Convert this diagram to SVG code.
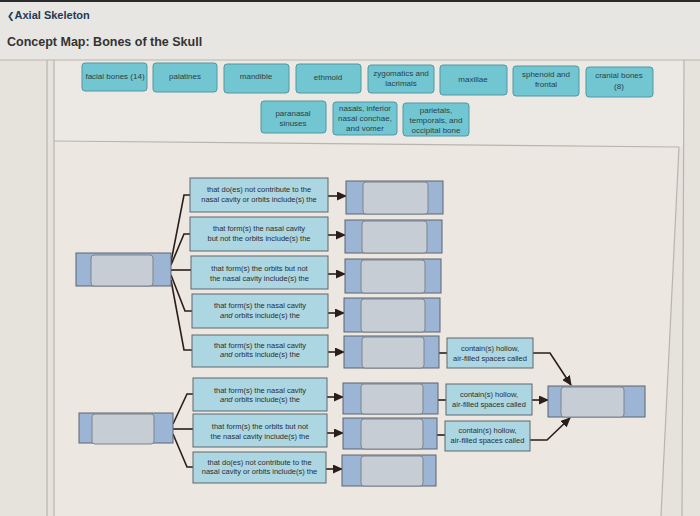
<svg xmlns="http://www.w3.org/2000/svg" width="700" height="516" viewBox="0 0 700 516">
<defs>
<marker id="arr" markerUnits="userSpaceOnUse" markerWidth="10" markerHeight="9" refX="9" refY="4.5" orient="auto">
<path d="M0,0 L10,4.5 L0,9 Z" fill="#2b1e1a"/>
</marker>
<style>
.tile{fill:#72c6d1;stroke:#4f98a3;stroke-width:1}
.tt{font-family:"Liberation Sans",Arial,sans-serif;font-size:8px;fill:#2a3f46;text-anchor:middle}
.box{fill:#acd6e2;stroke:#5e676d;stroke-width:1}
.bt{font-family:"Liberation Sans",Arial,sans-serif;font-size:7.5px;fill:#2a2e32;text-anchor:middle}
.no{fill:#9db5d5;stroke:#5b6470;stroke-width:1}
.ni{fill:#c7cdd4;stroke:#7d848c;stroke-width:1}
.c{stroke:#2b1e1a;stroke-width:1.6;fill:none}
.ca{stroke:#2b1e1a;stroke-width:1.6;fill:none;marker-end:url(#arr)}
.fr{stroke:#b9b4ad;stroke-width:1.2;fill:none}
</style>
</defs>
<rect x="0" y="0" width="700" height="516" fill="#e6e2dc"/>
<rect x="0" y="0" width="700" height="60" fill="#e8e6e3"/>
<rect x="0" y="0" width="700" height="2" fill="#2a2a2a"/>
<polygon points="54,60 684,60 684,147 54,141" fill="#ece9e4"/>
<polygon points="54,141 679,147 661,516 54,516" fill="#ece7e0"/>
<line class="fr" x1="0" y1="60" x2="700" y2="60"/>
<line class="fr" x1="47" y1="60" x2="47" y2="516"/>
<line class="fr" x1="54" y1="60" x2="54" y2="516"/>
<line class="fr" x1="54" y1="141" x2="679" y2="147"/>
<line class="fr" x1="684" y1="60" x2="682" y2="516"/>
<line class="fr" x1="679" y1="147" x2="661" y2="516"/>
<text x="7" y="19" font-family="Liberation Sans,Arial,sans-serif" font-size="11" font-weight="bold" fill="#213a55"><tspan font-family="DejaVu Sans,sans-serif" font-size="9">❮</tspan>Axial Skeleton</text>
<text x="7" y="46" font-family="Liberation Sans,Arial,sans-serif" font-size="12.5" font-weight="bold" fill="#333">Concept Map: Bones of the Skull</text>

<g id="label-tiles">
<g id="tile-facial"><rect class="tile" x="82" y="63" width="65" height="28" rx="3"/><text class="tt" x="115" y="79">facial bones (14)</text></g>
<g id="tile-palatines"><rect class="tile" x="153" y="63" width="64" height="29" rx="3"/><text class="tt" x="185" y="79">palatines</text></g>
<g id="tile-mandible"><rect class="tile" x="224" y="64" width="65" height="29" rx="3"/><text class="tt" x="256" y="79">mandible</text></g>
<g id="tile-ethmoid"><rect class="tile" x="296" y="64" width="65" height="29" rx="3"/><text class="tt" x="328" y="80">ethmoid</text></g>
<g id="tile-zygomatics"><rect class="tile" x="368" y="65" width="66" height="28" rx="3"/><text class="tt" x="401" y="75.5">zygomatics and</text><text class="tt" x="401" y="85.5">lacrimals</text></g>
<g id="tile-maxillae"><rect class="tile" x="440" y="65" width="67" height="30" rx="3"/><text class="tt" x="473" y="82">maxillae</text></g>
<g id="tile-sphenoid"><rect class="tile" x="513" y="66" width="66" height="30" rx="3"/><text class="tt" x="546" y="76.5">sphenoid and</text><text class="tt" x="546" y="87">frontal</text></g>
<g id="tile-cranial"><rect class="tile" x="586" y="67" width="67" height="30" rx="3"/><text class="tt" x="619" y="77.5">cranial bones</text><text class="tt" x="619" y="88.5">(8)</text></g>
<g id="tile-paranasal"><rect class="tile" x="261" y="101" width="65" height="32" rx="3"/><text class="tt" x="293" y="115.5">paranasal</text><text class="tt" x="293" y="125.5">sinuses</text></g>
<g id="tile-nasals"><rect class="tile" x="333" y="102" width="64" height="33" rx="3"/><text class="tt" x="365" y="110.5">nasals, inferior</text><text class="tt" x="365" y="120.5">nasal conchae,</text><text class="tt" x="365" y="131">and vomer</text></g>
<g id="tile-parietals"><rect class="tile" x="403" y="103" width="66" height="33" rx="3"/><text class="tt" x="436" y="112.5">parietals,</text><text class="tt" x="436" y="122.5">temporals, and</text><text class="tt" x="436" y="132.5">occipital bone</text></g>
</g>

<g id="connectors">
<polyline class="c" points="171,262 184,195 190,195"/>
<polyline class="c" points="171,265 184,234 190,234"/>
<polyline class="c" points="171,270 191,270"/>
<polyline class="c" points="171,275 185,311 192,311"/>
<polyline class="c" points="171,280 184,350 192,350"/>
<line class="ca" x1="328" y1="196" x2="346" y2="196"/>
<line class="ca" x1="328" y1="235" x2="345" y2="235"/>
<line class="ca" x1="328" y1="274" x2="345" y2="274"/>
<line class="ca" x1="328" y1="313" x2="344" y2="313"/>
<line class="ca" x1="328" y1="352" x2="344" y2="352"/>
<polyline class="c" points="173,424 187,394 193,394"/>
<polyline class="c" points="173,429 193,429"/>
<polyline class="c" points="173,434 187,467 193,467"/>
<line class="ca" x1="327" y1="397" x2="343" y2="397"/>
<line class="ca" x1="327" y1="433" x2="343" y2="433"/>
<line class="ca" x1="326" y1="469" x2="342" y2="469"/>
<line class="c" x1="439" y1="353" x2="447" y2="353"/>
<line class="c" x1="438" y1="400" x2="446" y2="400"/>
<line class="c" x1="437" y1="435" x2="445" y2="435"/>
<polyline class="ca" points="533,353 550,353 571,385"/>
<polyline class="ca" points="532,400 548,400"/>
<polyline class="ca" points="530,440 547,440 570,418"/>
</g>

<g id="hub-1"><rect class="no" x="76" y="253" width="95" height="33"/><rect class="ni" x="91" y="255" width="62" height="31" rx="3"/></g>
<g id="hub-2"><rect class="no" x="79" y="413" width="94" height="30"/><rect class="ni" x="92" y="414" width="62" height="30" rx="3"/></g>

<g id="phrase-1"><rect class="box" x="190" y="178" width="138" height="34"/><text class="bt" x="259" y="191.5">that do(es) not contribute to the</text><text class="bt" x="259" y="201.5">nasal cavity or orbits include(s) the</text></g>
<g id="phrase-2"><rect class="box" x="190" y="217" width="138" height="34"/><text class="bt" x="259" y="230.5">that form(s) the nasal cavity</text><text class="bt" x="259" y="240.5">but not the orbits include(s) the</text></g>
<g id="phrase-3"><rect class="box" x="191" y="256" width="137" height="33"/><text class="bt" x="259.5" y="270.5">that form(s) the orbits but not</text><text class="bt" x="259.5" y="280.5">the nasal cavity include(s) the</text></g>
<g id="phrase-4"><rect class="box" x="192" y="294" width="136" height="34"/><text class="bt" x="260" y="307.5">that form(s) the nasal cavity</text><text class="bt" x="260" y="318"><tspan font-style="italic">and</tspan> orbits include(s) the</text></g>
<g id="phrase-5"><rect class="box" x="192" y="335" width="136" height="32"/><text class="bt" x="260" y="347.5">that form(s) the nasal cavity</text><text class="bt" x="260" y="357"><tspan font-style="italic">and</tspan> orbits include(s) the</text></g>
<g id="phrase-6"><rect class="box" x="193" y="378" width="134" height="33"/><text class="bt" x="260" y="392.5">that form(s) the nasal cavity</text><text class="bt" x="260" y="401.5"><tspan font-style="italic">and</tspan> orbits include(s) the</text></g>
<g id="phrase-7"><rect class="box" x="193" y="414" width="134" height="33"/><text class="bt" x="260" y="428.5">that form(s) the orbits but not</text><text class="bt" x="260" y="438.5">the nasal cavity include(s) the</text></g>
<g id="phrase-8"><rect class="box" x="193" y="452" width="133" height="31"/><text class="bt" x="259.5" y="464.5">that do(es) not contribute to the</text><text class="bt" x="259.5" y="474">nasal cavity or orbits include(s) the</text></g>

<g id="target-1"><rect class="no" x="346" y="181" width="97" height="33"/><rect class="ni" x="363" y="182" width="65" height="32" rx="3"/></g>
<g id="target-2"><rect class="no" x="345" y="220" width="97" height="33"/><rect class="ni" x="362" y="221" width="65" height="32" rx="3"/></g>
<g id="target-3"><rect class="no" x="345" y="259" width="96" height="34"/><rect class="ni" x="361" y="260" width="64" height="33" rx="3"/></g>
<g id="target-4"><rect class="no" x="344" y="298" width="96" height="34"/><rect class="ni" x="361" y="299" width="64" height="33" rx="3"/></g>
<g id="target-5"><rect class="no" x="344" y="336" width="95" height="32"/><rect class="ni" x="362" y="337" width="62" height="31" rx="3"/></g>
<g id="target-6"><rect class="no" x="343" y="383" width="95" height="31"/><rect class="ni" x="361" y="384" width="62" height="30" rx="3"/></g>
<g id="target-7"><rect class="no" x="343" y="418" width="94" height="31"/><rect class="ni" x="361" y="419" width="62" height="30" rx="3"/></g>
<g id="target-8"><rect class="no" x="342" y="455" width="94" height="31"/><rect class="ni" x="361" y="456" width="62" height="30" rx="3"/></g>

<g id="contain-1"><rect class="box" x="447" y="338" width="86" height="30"/><text class="bt" x="490" y="350.5">contain(s) hollow,</text><text class="bt" x="490" y="360.5">air-filled spaces called</text></g>
<g id="contain-2"><rect class="box" x="446" y="384" width="86" height="31"/><text class="bt" x="489" y="396.5">contain(s) hollow,</text><text class="bt" x="489" y="406.5">air-filled spaces called</text></g>
<g id="contain-3"><rect class="box" x="445" y="421" width="85" height="30"/><text class="bt" x="487.5" y="432.5">contain(s) hollow,</text><text class="bt" x="487.5" y="442.5">air-filled spaces called</text></g>

<g id="sinus-node"><rect class="no" x="548" y="386" width="97" height="31"/><rect class="ni" x="561" y="387" width="63" height="30" rx="3"/></g>
</svg>
